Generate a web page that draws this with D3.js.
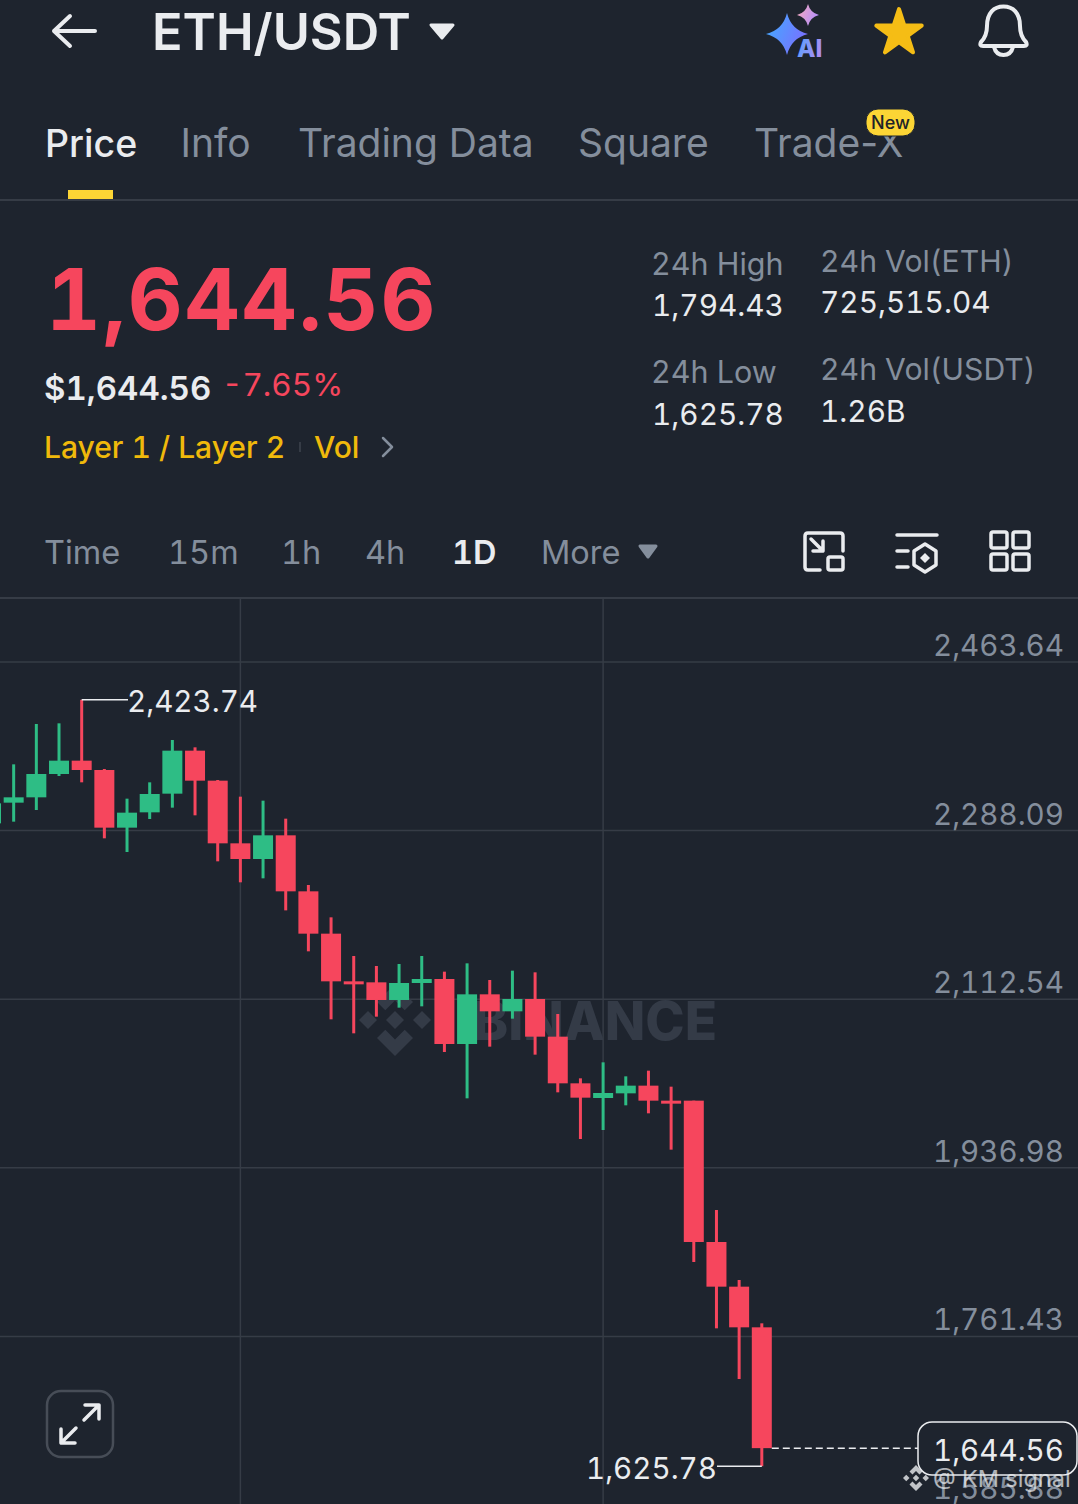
<!DOCTYPE html>
<html>
<head>
<meta charset="utf-8">
<script src="https://cdn.jsdelivr.net/npm/d3@7"></script>
<style>
  html, body { margin: 0; padding: 0; background: #1e242e; }
  svg { display: block; }
  text { font-family: Inter, "Noto Sans", sans-serif; font-variant-numeric: tabular-nums; font-feature-settings: "tnum" 1; }
</style>
</head>
<body>
<svg id="drawing_region"></svg>
<script>
// daily candles (first one is cut by the left edge)
const opens = [2295.12, 2316.65, 2322.21, 2346.50, 2360.39, 2350.67, 2290.63, 2306.59, 2326.03, 2370.80, 2339.56, 2274.31, 2258.00, 2282.65, 2224.33, 2180.25, 2130.62, 2129.58, 2111.19, 2128.89, 2133.05, 2065.37, 2117.09, 2099.39, 2112.23, 2073.01, 2024.42, 2009.14, 2014.00, 2022.00, 2006.37, 2006.37, 1859.21, 1812.70, 1770.36];
const highs = [2322.00, 2356.57, 2398.57, 2399.26, 2423.74, 2351.71, 2320.82, 2337.83, 2381.91, 2374.27, 2340.26, 2322.90, 2318.74, 2300.00, 2230.93, 2197.26, 2157.00, 2146.59, 2148.67, 2157.00, 2140.69, 2149.36, 2132.01, 2141.73, 2139.99, 2096.61, 2029.62, 2046.28, 2031.70, 2037.60, 2020.95, 2006.37, 1892.52, 1819.64, 1774.52];
const lows = [2288.00, 2296.87, 2309.02, 2344.42, 2337.83, 2279.52, 2265.29, 2299.65, 2311.45, 2303.47, 2255.57, 2233.71, 2237.87, 2204.50, 2161.85, 2091.06, 2076.48, 2093.83, 2103.20, 2104.59, 2057.04, 2008.80, 2062.60, 2091.75, 2054.27, 2015.04, 1966.45, 1975.82, 2001.51, 1993.17, 1955.35, 1838.38, 1769.31, 1716.56, 1625.78];
const closes = [2315.96, 2322.21, 2346.50, 2360.39, 2350.67, 2290.63, 2306.24, 2325.68, 2370.80, 2339.56, 2274.31, 2258.00, 2282.65, 2224.33, 2180.25, 2130.62, 2127.50, 2111.19, 2128.89, 2133.05, 2065.37, 2117.09, 2099.39, 2112.23, 2073.01, 2024.42, 2009.49, 2014.35, 2022.00, 2006.37, 2003.25, 1859.21, 1812.70, 1770.36, 1644.56];

const price_ticks = [2463.64, 2288.09, 2112.54, 1936.98, 1761.43, 1585.88];
const time_grid = [11, 27]; // candle index of the two vertical grid lines

const high_price = 2423.74, high_index = 4;
const low_price = 1625.78, low_index = 34;
const last_price = 1644.56;

const tabs = ["Price", "Info", "Trading Data", "Square", "Trade-X"];
const intervals = ["Time", "15m", "1h", "4h", "1D", "More"];

const WIDTH = 1078, HEIGHT = 1504;
const BG = "#1e242e", RED = "#f6465d", GREEN = "#2ebd85", YELLOW = "#f0b90b", WHITE = "#eaecef", GREY = "#848e9c", LINE = "#363c46";

const svg = d3.select("#drawing_region").attr("width", WIDTH).attr("height", HEIGHT);
svg.append("rect").attr("width", WIDTH).attr("height", HEIGHT).attr("fill", BG);

function label(x, y, txt, size, color, weight, anchor) {
    return svg.append("text")
        .attr("x", x).attr("y", y)
        .attr("font-size", size)
        .attr("font-weight", weight || 400)
        .attr("text-anchor", anchor || "start")
        .attr("fill", color)
        .text(txt);
}

function icon(d, color, width) {
    return svg.append("path").attr("d", d)
        .attr("fill", "none")
        .attr("stroke", color || WHITE)
        .attr("stroke-width", width || 3.5)
        .attr("stroke-linecap", "round")
        .attr("stroke-linejoin", "round");
}

function caret(x0, x1, y0, y1, color) {
    const line = d3.line();
    svg.append("path")
        .attr("d", line([[x0, y0], [x1, y0], [(x0 + x1) / 2, y1]]) + "Z")
        .attr("fill", color)
        .attr("stroke", color)
        .attr("stroke-width", 3)
        .attr("stroke-linejoin", "round");
}

function sparkle(cx, cy, r) {
    const k = r * 0.2;
    return `M${cx} ${cy - r}Q${cx + k} ${cy - k} ${cx + r} ${cy}Q${cx + k} ${cy + k} ${cx} ${cy + r}Q${cx - k} ${cy + k} ${cx - r} ${cy}Q${cx - k} ${cy - k} ${cx} ${cy - r}Z`;
}

function binanceLogo(cx, cy, r, color, opacity) {
    const polys = [
        [[0, -.25], [.25, 0], [0, .25], [-.25, 0]],
        [[-.75, -.25], [-.5, 0], [-.75, .25], [-1, 0]],
        [[.75, -.25], [1, 0], [.75, .25], [.5, 0]],
        [[-.5, -.5], [0, -1], [.5, -.5], [.27, -.27], [0, -.54], [-.27, -.27]],
        [[-.5, .5], [0, 1], [.5, .5], [.27, .27], [0, .54], [-.27, .27]]
    ];
    svg.append("g").selectAll("path").data(polys).join("path")
        .attr("d", p => d3.line()(p.map(q => [cx + q[0] * r, cy + q[1] * r])) + "Z")
        .attr("fill", color)
        .attr("opacity", opacity || 1);
}

// ---------- header ----------
icon("M54 31H95M70 16L54 31L70 46", WHITE, 4);
label(152, 50, "ETH/USDT", 50.5, WHITE, 600);
caret(431, 453, 25, 38, WHITE);

const defs = svg.append("defs");
const grad = (id, c0, c1) => {
    const g = defs.append("linearGradient").attr("id", id).attr("x1", "0").attr("y1", "0.3").attr("x2", "1").attr("y2", "0.7");
    g.append("stop").attr("offset", "0").attr("stop-color", c0);
    g.append("stop").attr("offset", "1").attr("stop-color", c1);
};
grad("g_big", "#45a8ff", "#7d6cff");
grad("g_small", "#f0a8c0", "#b08cff");
grad("g_ai", "#5aa0ff", "#b48cf0");
svg.append("path").attr("d", sparkle(787, 34, 21)).attr("fill", "url(#g_big)");
svg.append("path").attr("d", sparkle(808, 15, 11)).attr("fill", "url(#g_small)");
label(797, 57, "AI", 24, "url(#g_ai)", 800);

svg.append("path")
    .attr("d", d3.symbol(d3.symbolStar).size(640)())
    .attr("transform", "translate(899,33)")
    .attr("fill", "#f5bd15")
    .attr("stroke", "#f5bd15")
    .attr("stroke-width", 4)
    .attr("stroke-linejoin", "round");

icon("M981 42Q987 36 987 26C987 13 994 6.5 1003.5 6.5C1013 6.5 1020 13 1020 26Q1020 36 1026 42Q1028 46 1024 46H983Q979 46 981 42Z", WHITE, 4);
icon("M994 47Q996 55 1003.5 55Q1011 55 1013 47", WHITE, 4);

// ---------- tabs ----------
const tab_x = [45, 180.5, 298, 578, 754];
tabs.forEach((t, i) => {
    label(tab_x[i], 157, t, i == 0 ? 37.5 : 39, i == 0 ? WHITE : GREY, i == 0 ? 500 : 400)
        .style("font-feature-settings", "normal")
        .style("font-variant-numeric", "normal");
});
svg.append("rect").attr("x", 68).attr("y", 190).attr("width", 45).attr("height", 9).attr("fill", "#fcd535");
svg.append("rect").attr("x", 866).attr("y", 109).attr("width", 49).attr("height", 27).attr("rx", 12).attr("fill", "#fcd535").attr("stroke", BG).attr("stroke-width", 1);
label(890.5, 129, "New", 18, "#1e2329", 500, "middle");
svg.append("line").attr("x1", 0).attr("x2", WIDTH).attr("y1", 200).attr("y2", 200).attr("stroke", LINE).attr("stroke-width", 2);

// ---------- price summary ----------
label(46, 330, "1,644.56", 85, RED, 700).attr("letter-spacing", 2);
label(44, 400, "$1,644.56", 33, WHITE, 600);
label(222, 396, "-7.65%", 31.5, RED, 400);
label(44, 458, "Layer 1 / Layer 2", 30, YELLOW, 500);
svg.append("line").attr("x1", 300).attr("x2", 300).attr("y1", 442).attr("y2", 452).attr("stroke", LINE).attr("stroke-width", 2);
label(314, 458, "Vol", 30, YELLOW, 500);
icon("M383 438L392 447L383 456", GREY, 2.5);

label(651, 275, "24h High", 30.5, GREY);
label(652, 316, "1,794.43", 29.8, WHITE);
label(651, 383, "24h Low", 30.5, GREY);
label(652, 425, "1,625.78", 29.8, WHITE);
label(820, 272, "24h Vol(ETH)", 30.2, GREY);
label(820, 313, "725,515.04", 29.8, WHITE);
label(820, 380, "24h Vol(USDT)", 30.2, GREY);
label(820, 422, "1.26B", 29.8, WHITE);

// ---------- interval row ----------
const interval_x = [44, 168, 281, 365, 452, 541];
intervals.forEach((t, i) => label(interval_x[i], 564, t, 32.5, i == 4 ? WHITE : GREY, i == 4 ? 600 : 400));
caret(640, 656, 546, 557, GREY);

icon("M820 570H808Q805 570 805 567V536Q805 533 808 533H840Q843 533 843 536V551");
icon("M811 539L823 551M813 551H823V541");
svg.append("rect").attr("x", 828).attr("y", 557).attr("width", 15).attr("height", 13).attr("rx", 2).attr("fill", "none").attr("stroke", WHITE).attr("stroke-width", 3.5);
icon("M897 535H937M897 551H908M897 567H908");
icon("M925 544L936 551V565L925 572L914 565V551Z");
svg.append("path").attr("d", "M925 553L930 558L925 563L920 558Z").attr("fill", WHITE);
[[991, 532], [1013, 532], [991, 554], [1013, 554]].forEach(p => {
    svg.append("rect").attr("x", p[0]).attr("y", p[1]).attr("width", 16).attr("height", 16).attr("rx", 2)
        .attr("fill", "none").attr("stroke", WHITE).attr("stroke-width", 3.5);
});
svg.append("line").attr("x1", 0).attr("x2", WIDTH).attr("y1", 598).attr("y2", 598).attr("stroke", LINE).attr("stroke-width", 2);

// ---------- chart ----------
const xscale = d3.scaleLinear().domain([0, opens.length - 1]).range([-9, 761.8]);
const yscale = d3.scaleLinear().domain([price_ticks[0], price_ticks[5]]).range([661.5, 1504.5]);

svg.append("g").selectAll("line").data(time_grid).join("line")
    .attr("x1", d => xscale(d)).attr("x2", d => xscale(d))
    .attr("y1", 599).attr("y2", HEIGHT)
    .attr("stroke", LINE).attr("stroke-width", 1.5);

const yaxis = d3.axisLeft(yscale)
    .tickValues(price_ticks)
    .tickFormat(d3.format(",.2f"))
    .tickSize(WIDTH);
const yaxis_group = svg.append("g").attr("transform", `translate(${WIDTH},0)`).call(yaxis);
yaxis_group.select(".domain").remove();
yaxis_group.selectAll("line").attr("stroke", LINE).attr("stroke-width", 1.5);
yaxis_group.selectAll("text")
    .attr("x", -14).attr("dy", -6)
    .attr("text-anchor", "end")
    .attr("fill", GREY)
    .attr("font-size", 29.6);

// watermark sits under the candles
binanceLogo(395, 1020, 36, "#343b47");
label(717, 1040, "BINANCE", 53, "#343b47", 800, "end");

const candles = opens.map((o, i) => ({ i: i, o: o, h: highs[i], l: lows[i], c: closes[i] }));
const color = d => d.c >= d.o ? GREEN : RED;
const candle_width = 20;

svg.append("g").selectAll("line").data(candles).join("line")
    .attr("x1", d => xscale(d.i)).attr("x2", d => xscale(d.i))
    .attr("y1", d => yscale(d.h)).attr("y2", d => yscale(d.l))
    .attr("stroke", color).attr("stroke-width", 3);

svg.append("g").selectAll("rect").data(candles).join("rect")
    .attr("x", d => xscale(d.i) - candle_width / 2)
    .attr("width", candle_width)
    .attr("y", d => yscale(Math.max(d.o, d.c)))
    .attr("height", d => Math.max(yscale(Math.min(d.o, d.c)) - yscale(Math.max(d.o, d.c)), 3))
    .attr("fill", color);

// high / low call-outs
svg.append("line")
    .attr("x1", xscale(high_index)).attr("x2", 128)
    .attr("y1", yscale(high_price)).attr("y2", yscale(high_price))
    .attr("stroke", WHITE).attr("stroke-width", 1.5);
label(127, yscale(high_price) + 12, d3.format(",.2f")(high_price), 29.6, WHITE);

svg.append("line")
    .attr("x1", 717).attr("x2", xscale(low_index))
    .attr("y1", yscale(low_price)).attr("y2", yscale(low_price))
    .attr("stroke", WHITE).attr("stroke-width", 1.5);
label(717, yscale(low_price) + 13, d3.format(",.2f")(low_price), 29.6, WHITE, 400, "end");

// last price line + tag
svg.append("line")
    .attr("x1", xscale(low_index) + 10).attr("x2", 918)
    .attr("y1", yscale(last_price)).attr("y2", yscale(last_price))
    .attr("stroke", WHITE).attr("stroke-width", 1.5).attr("stroke-dasharray", "7 4");
svg.append("rect")
    .attr("x", 918).attr("y", 1422).attr("width", 159).attr("height", 53).attr("rx", 14)
    .attr("fill", BG).attr("stroke", WHITE).attr("stroke-width", 1.5);
label(1064, 1461, d3.format(",.2f")(last_price), 29.6, WHITE, 400, "end");

// expand button
svg.append("rect")
    .attr("x", 47).attr("y", 1391).attr("width", 66).attr("height", 66).attr("rx", 14)
    .attr("fill", BG).attr("stroke", "#474d57").attr("stroke-width", 2.5);
icon("M85 1405H99V1419M99 1405L84 1420M61 1429V1443H75M61 1443L76 1428", WHITE, 3.5);

// poster watermark
binanceLogo(916, 1478, 13, WHITE, 0.8);
label(933, 1487, "@ KM signal", 23.5, WHITE, 400).attr("opacity", 0.72);
</script>
</body>
</html>
